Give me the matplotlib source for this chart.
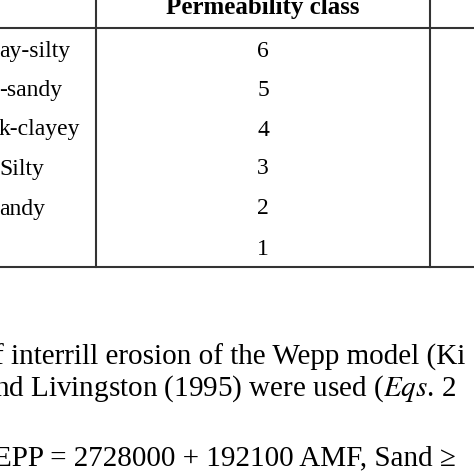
import matplotlib
matplotlib.use('Agg')
import matplotlib.pyplot as plt

plt.rcParams['font.family'] = 'Liberation Serif'
plt.rcParams['mathtext.fontset'] = 'stix'

header = 'Permeability class'
row_labels = ['ay-silty', '-sandy', 'k-clayey', 'Silty', 'andy', '']
perm_class = ['6', '5', '4', '3', '2', '1']
row_y = [51, 90, 130, 169, 209, 249]
body_lines = [
    'f interrill erosion of the Wepp model (Ki',
    r'nd Livingston (1995) were used ($\mathit{Eqs}$. 2',
    '',
    'EPP = 2728000 + 192100 AMF, Sand \u2265',
]
body_y = [357, 389, 421, 458]

fig = plt.figure(figsize=(4.74, 4.74), dpi=100)
ax = fig.add_axes([0, 0, 1, 1])
ax.set_xlim(0, 474)
ax.set_ylim(474, 0)
ax.axis('off')

lc = '#333333'
ax.plot([0, 474], [28, 28], color=lc, lw=1.5)
ax.plot([0, 474], [267, 267], color=lc, lw=1.5)
ax.plot([96, 96], [0, 267], color=lc, lw=1.5)
ax.plot([430, 430], [0, 267], color=lc, lw=1.5)

ax.text(263, 7, header, ha='center', va='center', fontsize=18, fontweight='bold')
for lab, val, y in zip(row_labels, perm_class, row_y):
    ax.text(-1, y, lab, ha='left', va='center', fontsize=17)
    ax.text(263, y, val, ha='center', va='center', fontsize=17)

for line, y in zip(body_lines, body_y):
    ax.text(-6, y, line, ha='left', va='center', fontsize=21)

fig.savefig('out.png', dpi=100)
